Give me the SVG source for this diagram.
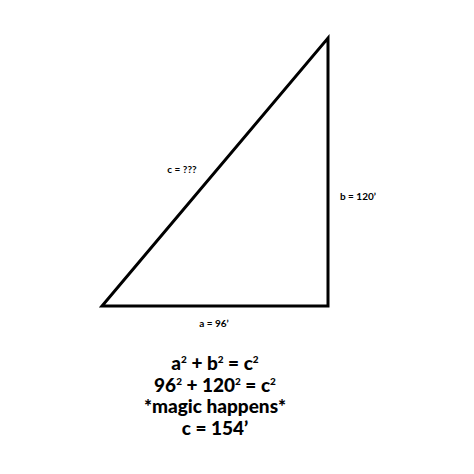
<svg xmlns="http://www.w3.org/2000/svg" width="474" height="474" viewBox="0 0 474 474">
<style>
text{font-family:Lato,"Open Sans","Liberation Sans",sans-serif;font-weight:bold;fill:#000}
.s{font-size:10px}
.b{font-size:19px;text-anchor:middle;font-weight:900}
.sup{font-size:10px}
</style>
<rect width="474" height="474" fill="#fff"/>
<g id="triangle">
<polygon points="102,306 328,306 328,38" fill="none" stroke="#000" stroke-width="3" stroke-linejoin="miter"/>
</g>
<g id="labels">
<text class="s" x="182" y="173" text-anchor="middle">c = ???</text>
<text class="s" x="340" y="200">b = 120’</text>
<text class="s" x="214" y="327" text-anchor="middle">a = 96’</text>
</g>
<g id="equations">
<text class="b" x="215" y="370">a<tspan class="sup" dy="-7">2</tspan><tspan dy="7"> + b</tspan><tspan class="sup" dy="-7">2</tspan><tspan dy="7"> = c</tspan><tspan class="sup" dy="-7">2</tspan></text>
<text class="b" x="215" y="392">96<tspan class="sup" dy="-7">2</tspan><tspan dy="7"> + 120</tspan><tspan class="sup" dy="-7">2</tspan><tspan dy="7"> = c</tspan><tspan class="sup" dy="-7">2</tspan></text>
<text class="b" x="215" y="413">*magic happens*</text>
<text class="b" x="215" y="435">c = 154’</text>
</g>
</svg>
